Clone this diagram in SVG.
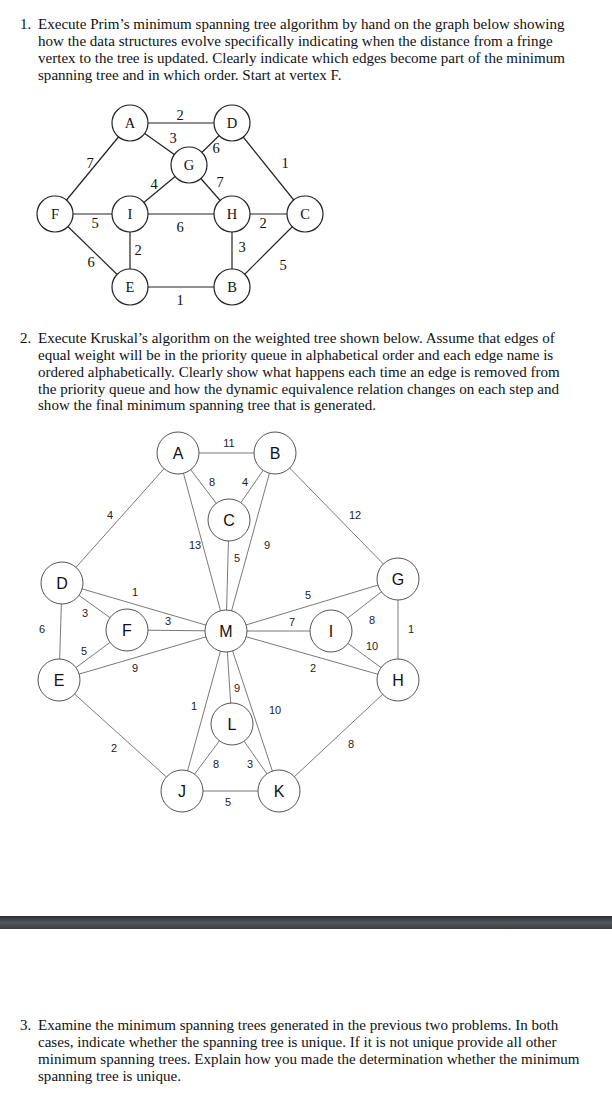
<svg xmlns="http://www.w3.org/2000/svg" width="612" height="1095" viewBox="0 0 612 1095">
<style>
.p{font-family:"Liberation Serif","Times New Roman",serif;font-size:15.05px;fill:#111}
.e1{stroke:#222;stroke-width:1.2;fill:none}
.n1 circle{fill:#fff;stroke:#222;stroke-width:1.2}
.n1 text,.l1{font-family:"Liberation Serif","Times New Roman",serif;font-size:14.5px;fill:#111;text-anchor:middle}
.e2{stroke:#6a6a6a;stroke-width:0.9;fill:none}
.n2 circle{fill:#fff;stroke:#555;stroke-width:1}
.n2 text{font-family:"Liberation Sans",Arial,sans-serif;font-size:16px;fill:#111;text-anchor:middle}
.l2{font-family:"Liberation Sans",Arial,sans-serif;font-size:11px;fill:#222;text-anchor:middle}
</style>
<defs>
<linearGradient id="bar" x1="0" y1="0" x2="0" y2="1">
<stop offset="0" stop-color="#2b2d30"/>
<stop offset="0.5" stop-color="#52575b"/>
<stop offset="1" stop-color="#3a3d41"/>
</linearGradient>
</defs>
<rect width="612" height="1095" fill="#fff"/>

<g id="q1">
<text class="p" x="20" y="28.5">1.</text>
<text class="p" x="38" y="28.5">Execute Prim’s minimum spanning tree algorithm by hand on the graph below showing</text>
<text class="p" x="38" y="45.5">how the data structures evolve specifically indicating when the distance from a fringe</text>
<text class="p" x="38" y="62.5">vertex to the tree is updated. Clearly indicate which edges become part of the minimum</text>
<text class="p" x="38" y="79.5">spanning tree and in which order. Start at vertex F.</text>
</g>

<g id="g1-edges">
<line class="e1" x1="130" y1="123" x2="232" y2="123"/>
<line class="e1" x1="130" y1="123" x2="189" y2="165"/>
<line class="e1" x1="232" y1="123" x2="189" y2="165"/>
<line class="e1" x1="130" y1="123" x2="55" y2="214"/>
<line class="e1" x1="232" y1="123" x2="305" y2="214"/>
<line class="e1" x1="189" y1="165" x2="130" y2="214"/>
<line class="e1" x1="189" y1="165" x2="232" y2="214"/>
<line class="e1" x1="55" y1="214" x2="130" y2="214"/>
<line class="e1" x1="130" y1="214" x2="232" y2="214"/>
<line class="e1" x1="232" y1="214" x2="305" y2="214"/>
<line class="e1" x1="55" y1="214" x2="130" y2="287"/>
<line class="e1" x1="130" y1="214" x2="130" y2="287"/>
<line class="e1" x1="232" y1="214" x2="232" y2="287"/>
<line class="e1" x1="305" y1="214" x2="232" y2="287"/>
<line class="e1" x1="130" y1="287" x2="232" y2="287"/>
</g>
<g id="g1-labels">
<text class="l1" x="180" y="120">2</text>
<text class="l1" x="173" y="143">3</text>
<text class="l1" x="216" y="153">6</text>
<text class="l1" x="90" y="168">7</text>
<text class="l1" x="285" y="168">1</text>
<text class="l1" x="154" y="189">4</text>
<text class="l1" x="220" y="187">7</text>
<text class="l1" x="95" y="228">5</text>
<text class="l1" x="180" y="232">6</text>
<text class="l1" x="263" y="228">2</text>
<text class="l1" x="138" y="255">2</text>
<text class="l1" x="242" y="252">3</text>
<text class="l1" x="91" y="267">6</text>
<text class="l1" x="283" y="270">5</text>
<text class="l1" x="180" y="305">1</text>
</g>
<g id="n1-A" class="n1"><circle cx="130" cy="123" r="18"/><text x="130" y="128">A</text></g>
<g id="n1-D" class="n1"><circle cx="232" cy="123" r="18"/><text x="232" y="128">D</text></g>
<g id="n1-G" class="n1"><circle cx="189" cy="165" r="18"/><text x="189" y="170">G</text></g>
<g id="n1-F" class="n1"><circle cx="55" cy="214" r="18"/><text x="55" y="219">F</text></g>
<g id="n1-I" class="n1"><circle cx="130" cy="214" r="18"/><text x="130" y="219">I</text></g>
<g id="n1-H" class="n1"><circle cx="232" cy="214" r="18"/><text x="232" y="219">H</text></g>
<g id="n1-C" class="n1"><circle cx="305" cy="214" r="18"/><text x="305" y="219">C</text></g>
<g id="n1-E" class="n1"><circle cx="130" cy="287" r="18"/><text x="130" y="292">E</text></g>
<g id="n1-B" class="n1"><circle cx="232" cy="287" r="18"/><text x="232" y="292">B</text></g>

<g id="q2">
<text class="p" x="20" y="343">2.</text>
<text class="p" x="38" y="343">Execute Kruskal’s algorithm on the weighted tree shown below. Assume that edges of</text>
<text class="p" x="38" y="360">equal weight will be in the priority queue in alphabetical order and each edge name is</text>
<text class="p" x="38" y="376.5">ordered alphabetically. Clearly show what happens each time an edge is removed from</text>
<text class="p" x="38" y="393.5">the priority queue and how the dynamic equivalence relation changes on each step and</text>
<text class="p" x="38" y="410">show the final minimum spanning tree that is generated.</text>
</g>

<g id="g2-edges">
<line class="e2" x1="178" y1="453" x2="275" y2="453"/>
<line class="e2" x1="178" y1="453" x2="229" y2="520"/>
<line class="e2" x1="178" y1="453" x2="226" y2="631"/>
<line class="e2" x1="178" y1="453" x2="62" y2="583"/>
<line class="e2" x1="275" y1="453" x2="229" y2="520"/>
<line class="e2" x1="275" y1="453" x2="226" y2="631"/>
<line class="e2" x1="275" y1="453" x2="398" y2="579"/>
<line class="e2" x1="229" y1="520" x2="226" y2="631"/>
<line class="e2" x1="62" y1="583" x2="226" y2="631"/>
<line class="e2" x1="62" y1="583" x2="127" y2="630"/>
<line class="e2" x1="62" y1="583" x2="59" y2="680"/>
<line class="e2" x1="127" y1="630" x2="226" y2="631"/>
<line class="e2" x1="59" y1="680" x2="127" y2="630"/>
<line class="e2" x1="59" y1="680" x2="226" y2="631"/>
<line class="e2" x1="59" y1="680" x2="182" y2="791"/>
<line class="e2" x1="226" y1="631" x2="182" y2="791"/>
<line class="e2" x1="226" y1="631" x2="232" y2="724"/>
<line class="e2" x1="226" y1="631" x2="279" y2="791"/>
<line class="e2" x1="226" y1="631" x2="398" y2="579"/>
<line class="e2" x1="226" y1="631" x2="331" y2="631"/>
<line class="e2" x1="226" y1="631" x2="398" y2="680"/>
<line class="e2" x1="398" y1="579" x2="331" y2="631"/>
<line class="e2" x1="398" y1="579" x2="398" y2="680"/>
<line class="e2" x1="331" y1="631" x2="398" y2="680"/>
<line class="e2" x1="279" y1="791" x2="398" y2="680"/>
<line class="e2" x1="182" y1="791" x2="232" y2="724"/>
<line class="e2" x1="232" y1="724" x2="279" y2="791"/>
<line class="e2" x1="182" y1="791" x2="279" y2="791"/>
</g>
<g id="g2-labels">
<text class="l2" x="229" y="447">11</text>
<text class="l2" x="212" y="486">8</text>
<text class="l2" x="245" y="486">4</text>
<text class="l2" x="110" y="519">4</text>
<text class="l2" x="355" y="519">12</text>
<text class="l2" x="195" y="549">13</text>
<text class="l2" x="267" y="549">9</text>
<text class="l2" x="237" y="562">5</text>
<text class="l2" x="135" y="596">1</text>
<text class="l2" x="308" y="599">5</text>
<text class="l2" x="85" y="617">3</text>
<text class="l2" x="42" y="633">6</text>
<text class="l2" x="168" y="625">3</text>
<text class="l2" x="292" y="626">7</text>
<text class="l2" x="372" y="624">8</text>
<text class="l2" x="411" y="633">1</text>
<text class="l2" x="84" y="655">5</text>
<text class="l2" x="372" y="650">10</text>
<text class="l2" x="135" y="672">9</text>
<text class="l2" x="313" y="672">2</text>
<text class="l2" x="237" y="692">9</text>
<text class="l2" x="194" y="710">1</text>
<text class="l2" x="275" y="714">10</text>
<text class="l2" x="351" y="748">8</text>
<text class="l2" x="114" y="752">2</text>
<text class="l2" x="216" y="768">8</text>
<text class="l2" x="250" y="768">3</text>
<text class="l2" x="228" y="806">5</text>
</g>
<g id="n2-A" class="n2"><circle cx="178" cy="453" r="21"/><text x="178" y="459">A</text></g>
<g id="n2-B" class="n2"><circle cx="275" cy="453" r="21"/><text x="275" y="459">B</text></g>
<g id="n2-C" class="n2"><circle cx="229" cy="520" r="21"/><text x="229" y="526">C</text></g>
<g id="n2-D" class="n2"><circle cx="62" cy="583" r="21"/><text x="62" y="589">D</text></g>
<g id="n2-G" class="n2"><circle cx="398" cy="579" r="21"/><text x="398" y="585">G</text></g>
<g id="n2-F" class="n2"><circle cx="127" cy="630" r="21"/><text x="127" y="636">F</text></g>
<g id="n2-M" class="n2"><circle cx="226" cy="631" r="21"/><text x="226" y="637">M</text></g>
<g id="n2-I" class="n2"><circle cx="331" cy="631" r="21"/><text x="331" y="637">I</text></g>
<g id="n2-E" class="n2"><circle cx="59" cy="680" r="21"/><text x="59" y="686">E</text></g>
<g id="n2-H" class="n2"><circle cx="398" cy="680" r="21"/><text x="398" y="686">H</text></g>
<g id="n2-L" class="n2"><circle cx="232" cy="724" r="21"/><text x="232" y="730">L</text></g>
<g id="n2-J" class="n2"><circle cx="182" cy="791" r="21"/><text x="182" y="797">J</text></g>
<g id="n2-K" class="n2"><circle cx="279" cy="791" r="21"/><text x="279" y="797">K</text></g>

<rect id="divider" x="0" y="916" width="612" height="13" fill="url(#bar)"/>

<g id="q3">
<text class="p" x="20" y="1030">3.</text>
<text class="p" x="38" y="1030">Examine the minimum spanning trees generated in the previous two problems. In both</text>
<text class="p" x="38" y="1047">cases, indicate whether the spanning tree is unique. If it is not unique provide all other</text>
<text class="p" x="38" y="1064">minimum spanning trees. Explain how you made the determination whether the minimum</text>
<text class="p" x="38" y="1081">spanning tree is unique.</text>
</g>
</svg>
